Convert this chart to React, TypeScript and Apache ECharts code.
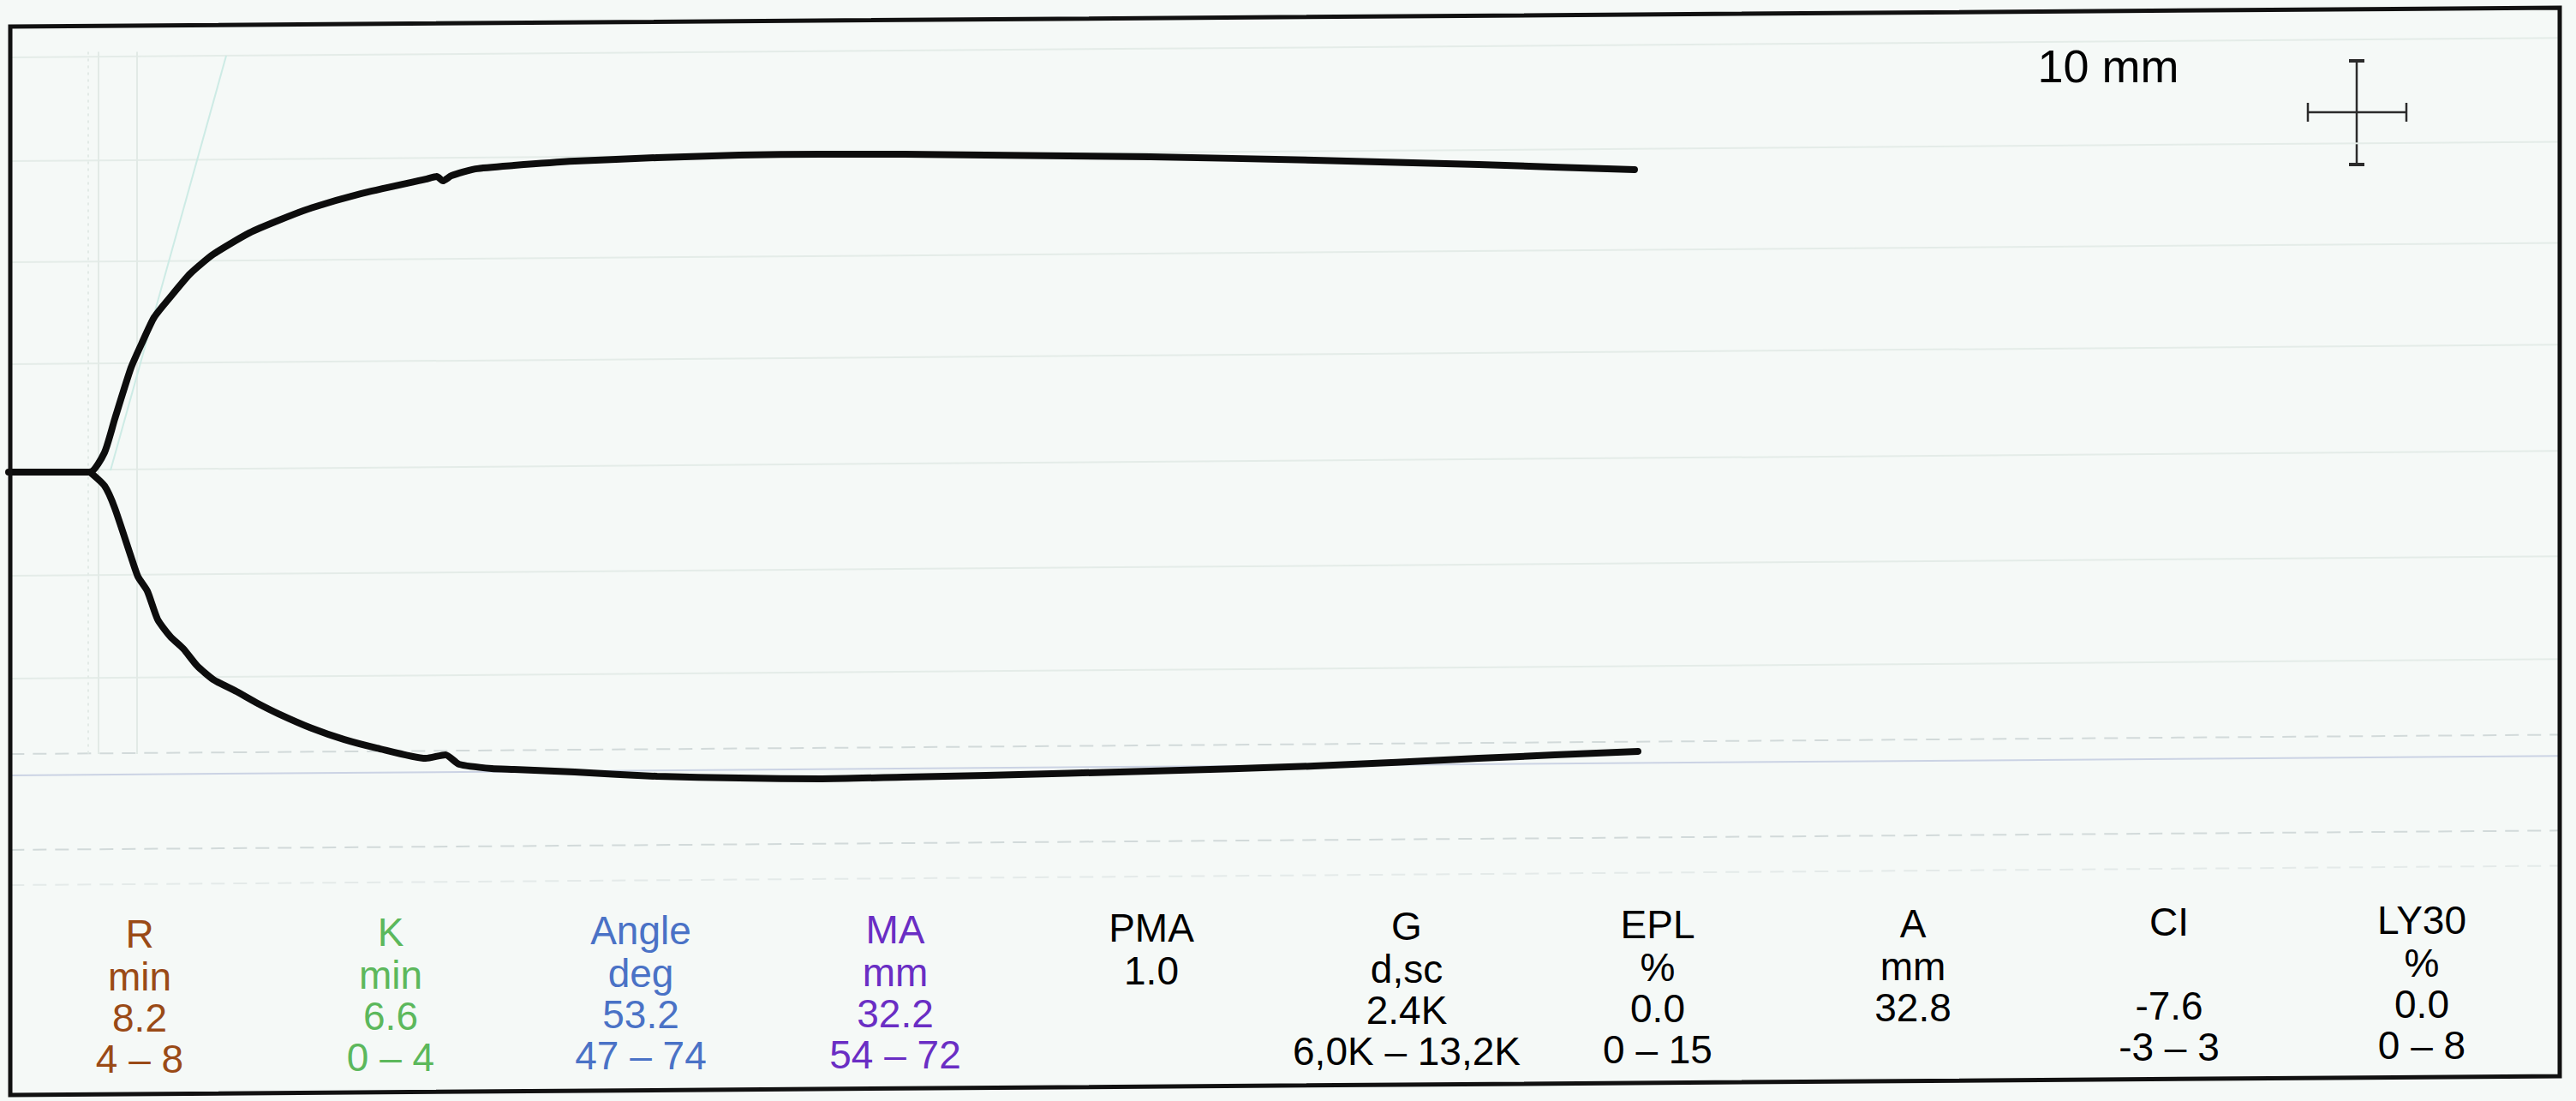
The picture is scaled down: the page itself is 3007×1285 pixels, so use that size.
import React, { useEffect, useRef } from "react";
import * as echarts from "echarts";

// ---- Trace data (time in min, amplitude in mm; upper and lower branch) ----
const UPPER_T = [0, 8.19, 9.66, 10.69, 12.33, 13.36, 14.66, 16.29, 18.28, 20.6, 24.22, 27.16, 30.52, 35.43, 41.98, 43.1, 43.71, 44.57, 46.98, 50.86, 56.98, 65.26, 73.53, 81.81, 90.09, 98.36, 114.91, 131.38, 147.93, 163.62];
const UPPER_MM = [0, 0, 1.02, 2.75, 5.4, 6.6, 8.0, 9.05, 10.25, 11.25, 12.35, 13.0, 13.65, 14.38, 15.13, 15.27, 15.04, 15.31, 15.66, 15.84, 16.06, 16.24, 16.37, 16.42, 16.42, 16.37, 16.28, 16.11, 15.88, 15.62];
const LOWER_T = [8.19, 9.66, 10.69, 12.33, 13.02, 13.97, 15.0, 16.29, 17.59, 18.97, 20.6, 22.93, 24.91, 27.16, 30.52, 33.79, 37.07, 41.98, 43.97, 45.34, 48.62, 50.86, 56.98, 65.26, 73.53, 81.81, 90.09, 98.36, 114.91, 131.38, 147.93, 163.97];
const LOWER_MM = [0, -0.71, -1.86, -4.38, -5.4, -6.15, -7.61, -8.5, -9.12, -10.0, -10.71, -11.33, -11.9, -12.48, -13.23, -13.81, -14.25, -14.78, -14.6, -15.09, -15.31, -15.35, -15.49, -15.71, -15.8, -15.84, -15.75, -15.66, -15.44, -15.18, -14.78, -14.42];

// ---- Chart-paper reference lines (mm at left edge) ----
const SOLID_GRID = [21.42, 16.06, 10.84, 5.58, 0.09, -5.35, -10.66];
const DASHED_GRID = [-14.56, -19.51, -21.33];
const BLUE_GRID = [-15.66];
const VERT_LINES = [8.02, 9.05, 12.93];
const ANGLE_LINE = [[10.26, 0.09], [21.9, 21.5]];

// ---- Result table ----
const LABELS = ["R", "K", "Angle", "MA", "PMA", "G", "EPL", "A", "CI", "LY30"];
const UNITS = ["min", "min", "deg", "mm", "", "d,sc", "%", "mm", "", "%"];
const VALUES = ["8.2", "6.6", "53.2", "32.2", "1.0", "2.4K", "0.0", "32.8", "-7.6", "0.0"];
const RANGES = ["4 – 8", "0 – 4", "47 – 74", "54 – 72", "", "6,0K – 13,2K", "0 – 15", "", "-3 – 3", "0 – 8"];
const VALUE_ROW = [2, 2, 2, 2, 1, 2, 2, 2, 2, 2];
const COLORS = ["#9a4a16", "#5cb85c", "#4a72c6", "#6a2ec4", "#000", "#000", "#000", "#000", "#000", "#000"];
const COL_X = [163, 456, 748, 1045, 1344, 1642, 1935, 2233, 2532, 2827];

const SCALE_LABEL = "10 mm";

// layout constants
const W = 3007;
const H = 1285;
const X0 = 10; // px of t = 0
const PX_MIN = 11.6;
const BASE_Y = 551;
const PX_MM = 22.6;
const SKEW_MM = 1.0;

export default function App() {
  const ref = useRef<HTMLDivElement>(null);
  useEffect(() => {
    if (!ref.current) return;
    const chart = echarts.init(ref.current, null, { renderer: "svg" });
    const xMax = (W - X0) / PX_MIN;
    const yMax = BASE_Y / PX_MM;
    const yMin = -(H - BASE_Y) / PX_MM;
    const font = "Liberation Sans, Arial, Helvetica, sans-serif";

    const hLine = (v: number, color: string, type: any, width: number) => [
      { coord: [0.2, v], lineStyle: { color, type, width } },
      { coord: [xMax - 1.5, v + SKEW_MM] },
    ];
    const refLines: any[] = [
      ...SOLID_GRID.map((v) => hLine(v, "#e4ece8", "solid", 2)),
      ...DASHED_GRID.map((v, i) => hLine(v, i === 2 ? "#e4eae9" : "#d2dada", [16, 10], 2)),
      ...BLUE_GRID.map((v) => hLine(v, "#cbd3e4", "solid", 2)),
      ...VERT_LINES.map((t, i) => [
        { coord: [t, 21.7], lineStyle: { color: "#e2eae6", type: i === 0 ? [3, 5] : "solid", width: 2 } },
        { coord: [t, -14.56] },
      ]),
      [
        { coord: ANGLE_LINE[0], lineStyle: { color: "#cdebe5", type: "solid", width: 2 } },
        { coord: ANGLE_LINE[1] },
      ],
    ];

    const textEls: any[] = [];
    const rowY = [1088, 1138, 1186, 1234];
    const slope = -0.006;
    LABELS.forEach((lab, i) => {
      const x = COL_X[i];
      const dy = (x - 163) * slope;
      const rows: [string, number][] = [
        [lab, 0],
        [UNITS[i], 1],
        [VALUES[i], VALUE_ROW[i]],
        [RANGES[i], 3],
      ];
      rows.forEach(([txt, r]) => {
        if (!txt) return;
        textEls.push({
          type: "text",
          x,
          y: rowY[r] + dy + 2,
          silent: true,
          style: {
            text: txt,
            fill: COLORS[i],
            font: `46px ${font}`,
            textAlign: "center",
            textVerticalAlign: "middle",
            align: "center",
            verticalAlign: "middle",
          },
        });
      });
    });

    const cx = 2751;
    const cy = 131;
    const crossStyle = { stroke: "#2b2b2b", lineWidth: 2.5 };
    const graphic: any[] = [
      {
        type: "polygon",
        silent: true,
        z: 10,
        shape: { points: [[12, 31], [2988, 9], [2988, 1256], [12, 1278]] },
        style: { fill: "none", stroke: "#111", lineWidth: 5 },
      },
      {
        type: "text",
        x: 2461,
        y: 77,
        silent: true,
        style: {
          text: SCALE_LABEL,
          fill: "#000",
          font: `54px ${font}`,
          textAlign: "center",
          textVerticalAlign: "middle",
          align: "center",
          verticalAlign: "middle",
        },
      },
      { type: "line", silent: true, shape: { x1: cx, y1: 71, x2: cx, y2: 192 }, style: crossStyle },
      { type: "line", silent: true, shape: { x1: 2694, y1: cy, x2: 2809, y2: cy }, style: crossStyle },
      { type: "line", silent: true, shape: { x1: cx - 9, y1: 71, x2: cx + 9, y2: 71 }, style: { ...crossStyle, lineWidth: 4 } },
      { type: "line", silent: true, shape: { x1: cx - 9, y1: 192, x2: cx + 9, y2: 192 }, style: { ...crossStyle, lineWidth: 4 } },
      { type: "line", silent: true, shape: { x1: 2694, y1: cy - 11, x2: 2694, y2: cy + 11 }, style: crossStyle },
      { type: "line", silent: true, shape: { x1: 2809, y1: cy - 11, x2: 2809, y2: cy + 11 }, style: crossStyle },
      ...textEls,
    ];

    const traceStyle = { color: "#0d0d0d", width: 8, join: "round", cap: "round" };
    chart.setOption({
      animation: false,
      backgroundColor: "#f5f9f7",
      grid: { left: X0, right: 0, top: 0, bottom: 0, containLabel: false },
      xAxis: { type: "value", min: 0, max: xMax, show: false },
      yAxis: { type: "value", min: yMin, max: yMax, show: false },
      graphic,
      series: [
        {
          type: "line",
          data: [],
          z: 1,
          silent: true,
          markLine: {
            silent: true,
            symbol: ["none", "none"],
            label: { show: false },
            animation: false,
            data: refLines,
          },
        },
        {
          type: "line",
          z: 5,
          silent: true,
          symbol: "none",
          smooth: 0.2,
          lineStyle: traceStyle,
          data: UPPER_T.map((t, i) => [t, UPPER_MM[i]]),
        },
        {
          type: "line",
          z: 5,
          silent: true,
          symbol: "none",
          smooth: 0.2,
          lineStyle: traceStyle,
          data: LOWER_T.map((t, i) => [t, LOWER_MM[i]]),
        },
      ],
    });
    return () => chart.dispose();
  }, []);
  return (
    <div
      ref={ref}
      style={{ position: "absolute", left: 0, top: 0, width: W, height: H, background: "#f5f9f7" }}
    />
  );
}
